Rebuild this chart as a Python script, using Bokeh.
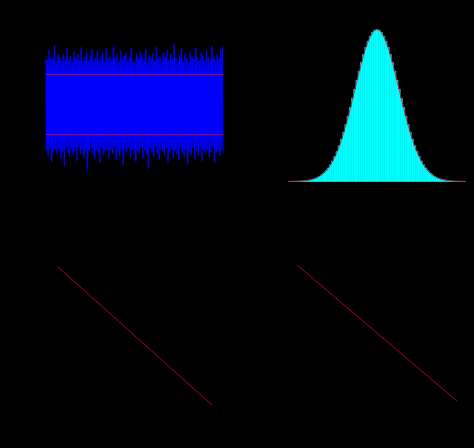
import numpy as np
from bokeh.plotting import figure
from bokeh.layouts import row, column
from bokeh.models import Range1d
from bokeh.embed import file_html
from bokeh.resources import INLINE

# ---- data ----
noise = [
    1.62, -1.55, 1.48, -1.71, 1.83, -1.46, 1.57, -1.92, 1.51, -1.60,
    1.97, -1.49, 1.42, -1.66, 1.70, -1.53, 1.59, -1.81, 1.46, -1.58,
    1.66, -2.05, 1.52, -1.43, 1.88, -1.62, 1.49, -1.74, 1.61, -1.50,
    1.41, -1.69, 1.76, -1.56, 1.54, -1.88, 1.68, -1.42, 1.50, -1.63,
    1.91, -1.52, 1.44, -1.77, 1.58, -1.59, 1.73, -2.18, 1.46, -1.54,
    1.64, -1.45, 1.85, -1.67, 1.43, -1.83, 1.56, -1.51, 1.79, -1.61,
    1.48, -1.95, 1.63, -1.44, 1.71, -1.70, 1.42, -1.57, 1.87, -1.50,
    1.53, -1.79, 1.60, -1.53, 1.45, -1.64, 1.94, -1.41, 1.57, -1.86,
    1.67, -1.58, 1.43, -1.72, 1.80, -1.49, 1.52, -2.02, 1.62, -1.55,
    1.74, -1.60, 1.46, -1.44, 1.58, -1.76, 1.89, -1.52, 1.42, -1.68,
    1.44, -1.90, 1.69, -1.56, 1.55, -1.62, 1.78, -1.43, 1.60, -1.80,
    1.50, -1.54, 1.84, -1.66, 1.41, -2.10, 1.65, -1.47, 1.56, -1.59,
    1.72, -1.73, 1.45, -1.42, 1.92, -1.63, 1.54, -1.84, 1.61, -1.51,
    1.43, -1.57, 1.75, -1.69, 1.59, -1.44, 1.82, -1.94, 1.48, -1.60,
    1.68, -1.52, 1.53, -1.78, 1.99, -1.55, 1.57, -1.65, 1.42, -1.87,
    1.63, -1.46, 1.86, -1.61, 1.44, -1.74, 1.70, -1.53, 1.55, -2.00,
    1.41, -1.58, 1.77, -1.67, 1.60, -1.45, 1.52, -1.82, 1.90, -1.56,
    1.58, -1.71, 1.46, -1.43, 1.73, -1.89, 1.64, -1.54, 1.44, -1.64,
    1.81, -1.51, 1.56, -1.75, 1.43, -1.59, 1.95, -1.42, 1.62, -1.93,
    1.47, -1.62, 1.69, -1.55, 1.54, -1.70, 1.85, -1.52, 1.96, -1.66,
]
noise_mean = 0.0
noise_std = 1.0

hist_centers = [round(-4.0 + 0.1 * i, 1) for i in range(81)]
hist_density = [
    0.0003, 0.0005, 0.0007, 0.0011, 0.0015, 0.0022, 0.0031, 0.0043, 0.0060, 0.0082,
    0.0111, 0.0149, 0.0198, 0.0261, 0.0340, 0.0439, 0.0561, 0.0710, 0.0889, 0.1103,
    0.1353, 0.1645, 0.1979, 0.2357, 0.2780, 0.3247, 0.3753, 0.4296, 0.4868, 0.5461,
    0.6065, 0.6670, 0.7261, 0.7827, 0.8353, 0.8825, 0.9231, 0.9560, 0.9802, 0.9950,
    1.0000,
    0.9950, 0.9802, 0.9560, 0.9231, 0.8825, 0.8353, 0.7827, 0.7261, 0.6670, 0.6065,
    0.5461, 0.4868, 0.4296, 0.3753, 0.3247, 0.2780, 0.2357, 0.1979, 0.1645, 0.1353,
    0.1103, 0.0889, 0.0710, 0.0561, 0.0439, 0.0340, 0.0261, 0.0198, 0.0149, 0.0111,
    0.0082, 0.0060, 0.0043, 0.0031, 0.0022, 0.0015, 0.0011, 0.0007, 0.0005, 0.0003,
]
bin_width = 0.1

line_a_x = [0, 2, 4, 6, 8, 10]
line_a_y = [10, 8, 6, 4, 2, 0]
line_b_x = [0, 2, 4, 6, 8, 10]
line_b_y = [10, 8, 6, 4, 2, 0]

RED = "#e00020"


def make_fig(xr, yr, left, right, top, bottom):
    p = figure(width=237, height=224, output_backend="svg", toolbar_location=None,
               x_range=Range1d(*xr), y_range=Range1d(*yr),
               x_axis_location=None, y_axis_location=None,
               min_border_left=left, min_border_right=right,
               min_border_top=top, min_border_bottom=bottom)
    p.background_fill_color = "black"
    p.border_fill_color = "black"
    p.outline_line_color = None
    p.xgrid.visible = False
    p.ygrid.visible = False
    return p


# top-left: noise signal
n = len(noise)
p1 = make_fig((0, n - 1), (-3.667, 3.133), 45, 14, 10, 10)
p1.line(list(range(n)), noise, color="blue", line_width=1.4)
p1.line([0, n - 1], [noise_mean + noise_std] * 2, color=RED, line_width=1, alpha=0.8)
p1.line([0, n - 1], [noise_mean - noise_std] * 2, color=RED, line_width=1, alpha=0.8)

# top-right: histogram + density curve
p2 = make_fig((-4, 4), (-0.217, 1.125), 51, 9, 10, 10)
c = np.array(hist_centers)
p2.quad(left=c - bin_width / 2, right=c + bin_width / 2, bottom=0, top=hist_density,
        fill_color="cyan", line_color="cyan", line_width=0.6)
p2.line(hist_centers, hist_density, color=RED, line_width=1, alpha=0.8)

# bottom-left
p3 = make_fig((0, 10), (-2.374, 12.302), 57, 25, 10, 10)
p3.line(line_a_x, line_a_y, color=RED, line_width=1, alpha=0.8)

# bottom-right
p4 = make_fig((0, 10), (-2.701, 12.190), 59, 17, 10, 10)
p4.line(line_b_x, line_b_y, color=RED, line_width=1, alpha=0.8)

layout = column(row(p1, p2), row(p3, p4))

html = file_html(layout, INLINE)
html = html.replace("</head>", "<style>html,body{background:#000000;}</style></head>", 1)
open("out.html", "w").write(html)
